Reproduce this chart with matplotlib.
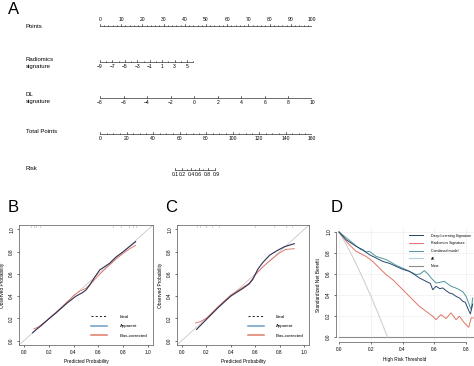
import numpy as np
import matplotlib
matplotlib.use("Agg")
import matplotlib.pyplot as plt

plt.rcParams['font.family'] = ['Liberation Sans', 'DejaVu Sans']

# ---- nomogram (panel A) ----
points_ticks = list(range(0, 101, 10))
radiomics_labels = [-9, -7, -5, -3, -1, 1, 3, 5]
radiomics_range = [-9, 6]
dl_labels = [-8, -6, -4, -2, 0, 2, 4, 6, 8, 10]
total_labels = list(range(0, 161, 20))
risk_labels = ["0.1", "0.2", "0.4", "0.6", "0.8", "0.9"]
risk_total_points = [56.6, 62.2, 68.9, 74.5, 81.2, 86.8]
risk_minor_points = [65.9, 71.7, 77.5]

# ---- calibration curves (panels B, C) ----
b_app_x = [0.07, 0.10, 0.15, 0.20, 0.26, 0.30, 0.35, 0.42, 0.47, 0.50, 0.53, 0.57, 0.61, 0.65, 0.69, 0.74, 0.80, 0.85, 0.90]
b_app_y = [0.07, 0.10, 0.145, 0.195, 0.25, 0.29, 0.34, 0.40, 0.43, 0.455, 0.50, 0.57, 0.635, 0.665, 0.695, 0.75, 0.80, 0.845, 0.89]
b_bc_x = [0.08, 0.12, 0.20, 0.30, 0.40, 0.45, 0.50, 0.55, 0.60, 0.65, 0.70, 0.75, 0.80, 0.85, 0.90]
b_bc_y = [0.105, 0.125, 0.195, 0.295, 0.405, 0.445, 0.47, 0.525, 0.585, 0.64, 0.69, 0.74, 0.785, 0.825, 0.857]
b_rug = [0.06, 0.08, 0.10, 0.13, 0.72, 0.78, 0.85, 0.88, 0.90]

c_app_x = [0.12, 0.20, 0.30, 0.40, 0.50, 0.55, 0.58, 0.62, 0.66, 0.72, 0.78, 0.84, 0.92]
c_app_y = [0.10, 0.19, 0.30, 0.40, 0.47, 0.51, 0.55, 0.64, 0.70, 0.77, 0.81, 0.845, 0.872]
c_bc_x = [0.11, 0.15, 0.20, 0.30, 0.40, 0.50, 0.55, 0.60, 0.65, 0.70, 0.75, 0.80, 0.85, 0.92]
c_bc_y = [0.158, 0.17, 0.20, 0.31, 0.41, 0.48, 0.515, 0.59, 0.65, 0.70, 0.745, 0.79, 0.82, 0.827]
c_rug = [0.12, 0.15, 0.20, 0.25, 0.30, 0.60, 0.75, 0.85, 0.90]

# ---- decision curves (panel D) ----
dl_x = [0.0, 0.044, 0.107, 0.15, 0.191, 0.23, 0.275, 0.32, 0.359, 0.40, 0.443, 0.48, 0.506, 0.548, 0.575, 0.59, 0.611, 0.635, 0.653, 0.675, 0.695, 0.715, 0.737, 0.76, 0.779, 0.795, 0.81, 0.827, 0.842]
dl_y = [1.0, 0.927, 0.864, 0.83, 0.784, 0.755, 0.72, 0.70, 0.673, 0.645, 0.625, 0.59, 0.562, 0.53, 0.51, 0.45, 0.483, 0.46, 0.467, 0.44, 0.419, 0.41, 0.387, 0.37, 0.34, 0.33, 0.276, 0.219, 0.314]
comb_x = [0.0, 0.086, 0.13, 0.17, 0.191, 0.233, 0.296, 0.33, 0.359, 0.422, 0.485, 0.51, 0.537, 0.56, 0.58, 0.611, 0.635, 0.663, 0.705, 0.73, 0.758, 0.78, 0.80, 0.832, 0.842]
comb_y = [1.0, 0.895, 0.84, 0.81, 0.816, 0.768, 0.737, 0.71, 0.683, 0.641, 0.594, 0.60, 0.632, 0.60, 0.562, 0.514, 0.52, 0.53, 0.483, 0.47, 0.45, 0.43, 0.387, 0.26, 0.371]
rad_x = [0.0, 0.055, 0.107, 0.17, 0.212, 0.254, 0.296, 0.338, 0.38, 0.422, 0.464, 0.506, 0.548, 0.59, 0.611, 0.642, 0.674, 0.705, 0.737, 0.758, 0.79, 0.817, 0.832, 0.846]
rad_y = [1.0, 0.895, 0.816, 0.768, 0.72, 0.657, 0.594, 0.546, 0.483, 0.419, 0.355, 0.292, 0.244, 0.197, 0.165, 0.213, 0.175, 0.229, 0.165, 0.197, 0.133, 0.092, 0.181, 0.181]
all_x = [0.0, 0.05, 0.10, 0.15, 0.20, 0.25, 0.30, 0.305]
all_y = [1.0, 0.87, 0.72, 0.56, 0.39, 0.21, 0.02, 0.0]
none_x = [0.0, 0.85]
none_y = [0.0, 0.0]

W, H = 474, 366
fig = plt.figure(figsize=(W / 100, H / 100), dpi=100)


def box(l, t, r, b):
    return [l / W, 1 - b / H, (r - l) / W, (b - t) / H]


# panel A
nom = fig.add_axes(box(100, 0, 312, 190))
nom.set_xlim(0, 100)
nom.set_ylim(190, 0)
nom.axis("off")
fs_lab, fs_tick = 4.3, 3.6


def scale(y, major, labels, minor=(), above=False):
    major = list(major)
    ends = major + list(minor)
    nom.plot([min(ends), max(ends)], [y, y], color="#333333", lw=0.5)
    for v in major:
        nom.plot([v, v], [y, y - 2.2], color="#333333", lw=0.5)
    for v in minor:
        nom.plot([v, v], [y, y - 1.3], color="#333333", lw=0.4)
    for v, s in zip(major, labels):
        if above:
            nom.text(v, y - 4, s, ha="center", va="bottom", fontsize=fs_tick)
        else:
            nom.text(v, y + 2.5, s, ha="center", va="top", fontsize=fs_tick)


scale(26, points_ticks, [str(v) for v in points_ticks],
      minor=[v for v in range(0, 101, 2) if v % 10], above=True)
rad_pts = lambda v: (v - radiomics_range[0]) * 100 / 34.1
scale(62, [rad_pts(v) for v in radiomics_labels], [f"{v}".replace("-", "\u2212") for v in radiomics_labels],
      minor=[rad_pts(v) for v in range(radiomics_range[0], radiomics_range[1] + 1) if v not in radiomics_labels])
dl_pts = lambda v: (v + 8) * 100 / 18
scale(98, [dl_pts(v) for v in dl_labels], [f"{v}".replace("-", "\u2212") for v in dl_labels])
tp = lambda v: v * 100 / 160
scale(134, [tp(v) for v in total_labels], [str(v) for v in total_labels],
      minor=[tp(v) for v in range(0, 161, 5) if v % 20])
scale(170, [tp(v) for v in risk_total_points], risk_labels,
      minor=[tp(v) for v in risk_minor_points])
nom.texts[-1].set_x(tp(risk_total_points[-1]) + 0.4)

row_names = [("Points", 27), ("Radiomics\nsignature", 63), ("DL\nsignature", 98),
             ("Total Points", 132), ("Risk", 169)]
for name, y in row_names:
    fig.text(26 / W, 1 - y / H, name, fontsize=fs_lab, va="center", ha="left", linespacing=1.5)

for letter, x, y in [("A", 8, 10), ("B", 8, 208), ("C", 165, 208), ("D", 331, 208)]:
    fig.text(x / W, 1 - y / H, letter, fontsize=12, va="center", ha="left")

# panels B, C
fs_ax = 3.4
for pos, ax_x, ax_y, bc_x, bc_y, rug in [((19, 225, 153, 345), b_app_x, b_app_y, b_bc_x, b_bc_y, b_rug),
                                         ((177, 225, 309, 345), c_app_x, c_app_y, c_bc_x, c_bc_y, c_rug)]:
    ax = fig.add_axes(box(*pos))
    ax.set_xlim(-0.04, 1.04)
    ax.set_ylim(-0.04, 1.04)
    ax.plot([-0.04, 1.04], [-0.04, 1.04], color="#bdbdbd", lw=0.5)
    ax.plot(bc_x, bc_y, color="#de6b5b", lw=0.6, label="_nolegend_")
    ax.plot(ax_x, ax_y, color="#2e2e52", lw=0.8, label="_nolegend_")
    for r in rug:
        ax.plot([r, r], [1.02, 1.035], color="#9a9a9a", lw=0.4)
    ax.plot([], [], color="black", ls=(0, (2.5, 2.5)), lw=0.6, label="Ideal")
    ax.plot([], [], color="#6d9ec4", lw=1.1, label="Apparent")
    ax.plot([], [], color="#e07a66", lw=1.1, label="Bias-corrected")
    ax.legend(loc="lower right", bbox_to_anchor=(0.96, 0.06), frameon=False, fontsize=3.2,
              handlelength=3.6, handletextpad=2.8, labelspacing=1.2, borderpad=0, borderaxespad=0)
    ticks = [0.0, 0.2, 0.4, 0.6, 0.8, 1.0]
    ax.set_xticks(ticks)
    ax.set_yticks(ticks)
    ax.set_xticklabels([f"{t:.1f}" for t in ticks])
    ax.set_yticklabels([f"{t:.1f}" for t in ticks], rotation=90, va="center")
    ax.tick_params(labelsize=fs_ax, length=1.5, width=0.4, pad=2)
    for s in ax.spines.values():
        s.set_linewidth(0.5)
        s.set_color("#555555")
    ax.set_xlabel("Predicted Probability", fontsize=fs_ax, labelpad=3)
    ax.set_ylabel("Observed Probability", fontsize=fs_ax, labelpad=3)

# panel D
axd = fig.add_axes(box(336, 228, 474, 342))
axd.set_xlim(-0.019, 0.85)
axd.set_ylim(-0.048, 1.038)
axd.grid(True, color="#eeeeee", lw=0.5)
axd.set_axisbelow(True)
axd.plot(none_x, none_y, color="#8c8c8c", lw=0.8, label="None")
axd.plot(all_x, all_y, color="#d0d0d0", lw=0.8, label="All")
axd.plot(rad_x, rad_y, color="#e07563", lw=0.7, label="Radiomics Signature")
axd.plot(comb_x, comb_y, color="#4f979c", lw=0.7, label="Combined model")
axd.plot(dl_x, dl_y, color="#2a466d", lw=0.7, label="Deep Learning Signature")
h, l = axd.get_legend_handles_labels()
order = [4, 2, 3, 1, 0]
leg = axd.legend([h[i] for i in order], [l[i] for i in order], loc="upper left",
                 bbox_to_anchor=(0.53, 0.95), frameon=False, fontsize=2.6,
                 handlelength=3.8, handletextpad=2.2, labelspacing=1.0, borderpad=0, borderaxespad=0)
leg.legend_handles[3].set_color("#b5cde0")
for s in ["top", "right"]:
    axd.spines[s].set_visible(False)
axd.spines["left"].set_bounds(0, 1)
axd.spines["bottom"].set_bounds(0, 0.8)
axd.spines["left"].set_linewidth(0.5)
axd.spines["bottom"].set_linewidth(0.5)
axd.spines["left"].set_color("#555555")
axd.spines["bottom"].set_color("#555555")
axd.set_xticks([0.0, 0.2, 0.4, 0.6, 0.8])
axd.set_yticks([0.0, 0.2, 0.4, 0.6, 0.8, 1.0])
axd.set_xticklabels(["0.0", "0.2", "0.4", "0.6", "0.8"])
axd.set_yticklabels(["0.0", "0.2", "0.4", "0.6", "0.8", "1.0"], rotation=90, va="center")
axd.tick_params(labelsize=fs_ax, length=1.5, width=0.4, pad=2)
axd.set_xlabel("High Risk Threshold", fontsize=fs_ax, labelpad=4)
axd.set_ylabel("Standardized Net Benefit", fontsize=fs_ax, labelpad=4)

fig.savefig("out.png", dpi=100)
